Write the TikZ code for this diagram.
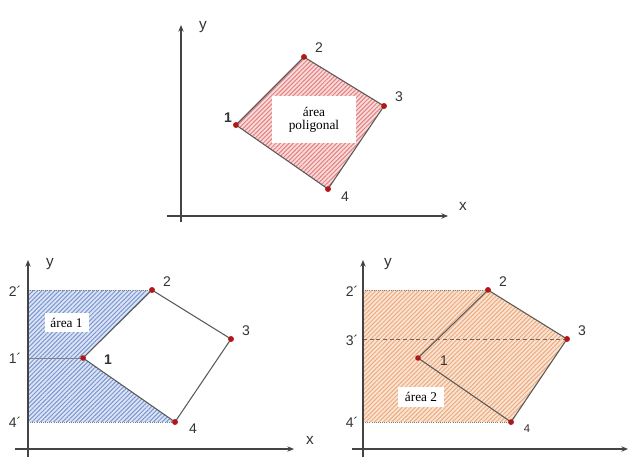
\documentclass[tikz,border=0pt]{standalone}
\usepackage{fontspec}
\setmainfont{Liberation Sans}
\newfontfamily\serifbox{Liberation Serif}
\usetikzlibrary{arrows.meta,patterns.meta}
\definecolor{axisgray}{HTML}{444444}
\definecolor{edgegray}{HTML}{5A5A5A}
\definecolor{ptred}{HTML}{B01818}
\definecolor{pinkbg}{HTML}{F8DADA}
\definecolor{pinkln}{HTML}{E58080}
\definecolor{bluebg}{HTML}{DCE4F4}
\definecolor{blueln}{HTML}{7A96D2}
\definecolor{orgbg}{HTML}{FBE3D0}
\definecolor{orgln}{HTML}{EBAC84}
\tikzset{
  axis/.style={draw=axisgray, line width=0.8pt, -{Stealth[length=5pt,width=4pt]}},
  edge/.style={draw=edgegray, line width=0.8pt},
  guide/.style={draw=gray, line width=0.6pt, densely dotted},
  pt/.style={circle, fill=ptred, inner sep=0pt, minimum size=4.2pt},
  hatch/.style={pattern={Lines[angle=45,distance=2.3pt,line width=0.75pt]}, pattern color=#1},
  lbl/.style={font=\fontsize{10.5pt}{12pt}\selectfont, text=black!80, inner sep=0pt},
  ax/.style={font=\fontsize{11.5pt}{12pt}\selectfont, text=black!80, inner sep=0pt},
  boxtxt/.style={fill=white, font=\serifbox\fontsize{10pt}{11pt}\selectfont, align=center, inner sep=2pt},
}
\begin{document}
\begin{tikzpicture}[x=0.75pt,y=-0.75pt]
\useasboundingbox (0,0) rectangle (640,467);
% ---------------- top diagram ----------------
\coordinate (TyB) at (181,222);
\coordinate (TyT) at (181,25);
\coordinate (TxL) at (167,216);
\coordinate (TxR) at (448,216);
\node[pt] (T1) at (236,125) {};
\node[pt] (T2) at (304,57) {};
\node[pt] (T3) at (384,106) {};
\node[pt] (T4) at (328,189) {};
\fill[pinkbg] (T1.center) -- (T2.center) -- (T3.center) -- (T4.center) -- cycle;
\fill[hatch=pinkln] (T1.center) -- (T2.center) -- (T3.center) -- (T4.center) -- cycle;
\draw[edge] (T1.center) -- (T2.center) -- (T3.center) -- (T4.center) -- cycle;
\node[pt] at (T1) {};\node[pt] at (T2) {};\node[pt] at (T3) {};\node[pt] at (T4) {};
\draw[axis] (TyB) -- (TyT);
\draw[axis] (TxL) -- (TxR);
\node[ax] (Tylab) at (203,27) {y};
\node[ax] (Txlab) at (463,206) {x};
\node[lbl, font=\bfseries\fontsize{10.5pt}{12pt}\selectfont] (T1l) at (228,118) {1};
\node[lbl] (T2l) at (319,48) {2};
\node[lbl] (T3l) at (399,97) {3};
\node[lbl] (T4l) at (345,197) {4};
\node[boxtxt, minimum width=63pt, minimum height=35pt] (Tbox) at (314,119.5) {área\\[-1pt]poligonal};
% ---------------- bottom left ----------------
\coordinate (LyB) at (28,457);
\coordinate (LyT) at (28,260);
\coordinate (LxL) at (15,449);
\coordinate (LxR) at (294,449);
\coordinate (L2p) at (28,290);
\coordinate (L1p) at (28,358);
\coordinate (L4p) at (28,422);
\node[pt] (L1) at (83,358) {};
\node[pt] (L2) at (152,290) {};
\node[pt] (L3) at (231,339) {};
\node[pt] (L4) at (175,422) {};
\fill[bluebg] (L2p) -- (L2.center) -- (L1.center) -- (L4.center) -- (L4p) -- cycle;
\fill[hatch=blueln] (L2p) -- (L2.center) -- (L1.center) -- (L4.center) -- (L4p) -- cycle;
\node[boxtxt, minimum width=33pt, minimum height=14pt] (Lbox) at (66.5,322.5) {área 1};
\draw[guide] (L2p) -- (L2.center);
\draw[guide] (L4p) -- (L4.center);
\draw[draw=gray, line width=0.6pt] (L1p) -- (L1.center);
\draw[edge] (L1.center) -- (L2.center) -- (L3.center) -- (L4.center) -- cycle;
\node[pt] at (L1) {};\node[pt] at (L2) {};\node[pt] at (L3) {};\node[pt] at (L4) {};
\draw[axis] (LyB) -- (LyT);
\draw[axis] (LxL) -- (LxR);
\node[ax] (Lylab) at (50,264) {y};
\node[ax] (Lxlab) at (310,440) {x};
\node[lbl] (L2pl) at (15,291) {2´};
\node[lbl] (L1pl) at (15,358) {1´};
\node[lbl] (L4pl) at (15,422) {4´};
\node[lbl, font=\bfseries\fontsize{10.5pt}{12pt}\selectfont] (L1l) at (108,360) {1};
\node[lbl] (L2l) at (167,282) {2};
\node[lbl] (L3l) at (246,331) {3};
\node[lbl] (L4l) at (193,429) {4};
% ---------------- bottom right ----------------
\coordinate (RyB) at (363,457);
\coordinate (RyT) at (363,260);
\coordinate (RxL) at (352,449);
\coordinate (RxR) at (628,449);
\coordinate (R2p) at (363,290);
\coordinate (R3p) at (363,339);
\coordinate (R4p) at (363,422);
\node[pt] (R1) at (418,358) {};
\node[pt] (R2) at (488,290) {};
\node[pt] (R3) at (567,339) {};
\node[pt] (R4) at (511,422) {};
\fill[orgbg] (R2p) -- (R2.center) -- (R3.center) -- (R4.center) -- (R4p) -- cycle;
\fill[hatch=orgln] (R2p) -- (R2.center) -- (R3.center) -- (R4.center) -- (R4p) -- cycle;
\node[boxtxt, minimum width=34pt, minimum height=15pt] (Rbox) at (421,397) {área 2};
\draw[guide] (R2p) -- (R2.center);
\draw[guide] (R4p) -- (R4.center);
\draw[draw=black!60, line width=0.7pt, densely dashed] (R3p) -- (R3.center);
\draw[edge] (R1.center) -- (R2.center) -- (R3.center) -- (R4.center) -- cycle;
\node[pt] at (R1) {};\node[pt] at (R2) {};\node[pt] at (R3) {};\node[pt] at (R4) {};
\draw[axis] (RyB) -- (RyT);
\draw[axis] (RxL) -- (RxR);
\node[ax] (Rylab) at (388,264) {y};
\node[lbl] (R2pl) at (352,291) {2´};
\node[lbl] (R3pl) at (352,340) {3´};
\node[lbl] (R4pl) at (352,422) {4´};
\node[lbl] (R1l) at (444,361) {1};
\node[lbl] (R2l) at (503,282) {2};
\node[lbl] (R3l) at (582,331) {3};
\node[lbl, font=\fontsize{8.5pt}{10pt}\selectfont] (R4l) at (527,429) {4};
\end{tikzpicture}
\end{document}
